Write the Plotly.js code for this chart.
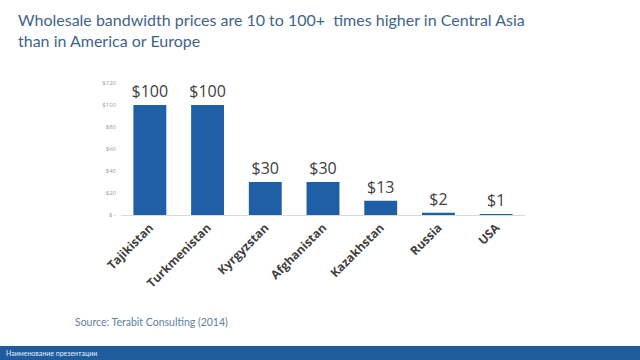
<!DOCTYPE html>
<html><head><meta charset="utf-8">
<script src="https://cdn.plot.ly/plotly-3.0.1.min.js"></script>
<style>html,body{margin:0;padding:0;background:#fff;}#c{width:640px;height:360px;}</style>
</head><body><div id="c"></div>
<script>
const countries = ["Tajikistan","Turkmenistan","Kyrgyzstan","Afghanistan","Kazakhstan","Russia","USA"];
const prices = [100,100,30,30,13,2,1];
const yTickVals = [0,20,40,60,80,100,120];
const yTickText = ["$ -","$20","$40","$60","$80","$100","$120"];

const W=640,H=360, L=121, R=115, T=83, B=145;
const pw=W-L-R, ph=H-T-B;
const px = x => (x-L)/pw;
const py = y => (H-B-y)/ph;

const trace = {
  type:'bar', x:countries, y:prices,
  marker:{color:'#1f5fa6'},
  text:prices.map(v=>'$'+v), textposition:'outside', cliponaxis:false, constraintext:'none',
  textfont:{family:'Open Sans, Noto Sans, sans-serif', size:16, color:'#404040'},
  hoverinfo:'none'
};
const layout = {
  width:W, height:H, margin:{l:L,r:R,t:T,b:B},
  paper_bgcolor:'#fff', plot_bgcolor:'#fff', showlegend:false, bargap:0.43,
  xaxis:{tickangle:-45, tickfont:{family:'Open Sans, Noto Sans, sans-serif', size:12, color:'#404040', weight:'bold'},
    showline:true, linecolor:'#d9d9d9', linewidth:1, ticks:'', showgrid:false, zeroline:false, fixedrange:true},
  yaxis:{range:[0,120], tickvals:yTickVals, ticktext:yTickText, showgrid:false, zeroline:false, showline:false,
    tickfont:{family:'Open Sans, sans-serif', size:6, color:'#9a9a9a'}, ticklabelstandoff:4, fixedrange:true},
  shapes:[{type:'rect', xref:'paper', yref:'paper', x0:px(0), x1:px(640), y0:py(346), y1:py(361), fillcolor:'#1f5c9e', line:{width:0}, layer:'above'}],
  annotations:[
    {xref:'paper', yref:'paper', x:px(16), y:py(8), xanchor:'left', yanchor:'top', align:'left', showarrow:false,
     text:'Wholesale bandwidth prices are 10 to 100+  times higher in Central Asia<br>than in America or Europe',
     font:{family:'Lato, sans-serif', size:16, color:'#41648a'}},
    {xref:'paper', yref:'paper', x:px(73), y:py(322), xanchor:'left', yanchor:'middle', showarrow:false,
     text:'Source: Terabit Consulting (2014)', font:{family:'Lato, sans-serif', size:10.5, color:'#6080a0'}},
    {xref:'paper', yref:'paper', x:px(4), y:py(353), xanchor:'left', yanchor:'middle', showarrow:false,
     text:'Наименование презентации', font:{family:'Lato, Noto Sans, sans-serif', size:7, color:'#e8eef6'}}
  ]
};
Plotly.newPlot('c',[trace],layout,{displayModeBar:false,staticPlot:true});
</script></body></html>
